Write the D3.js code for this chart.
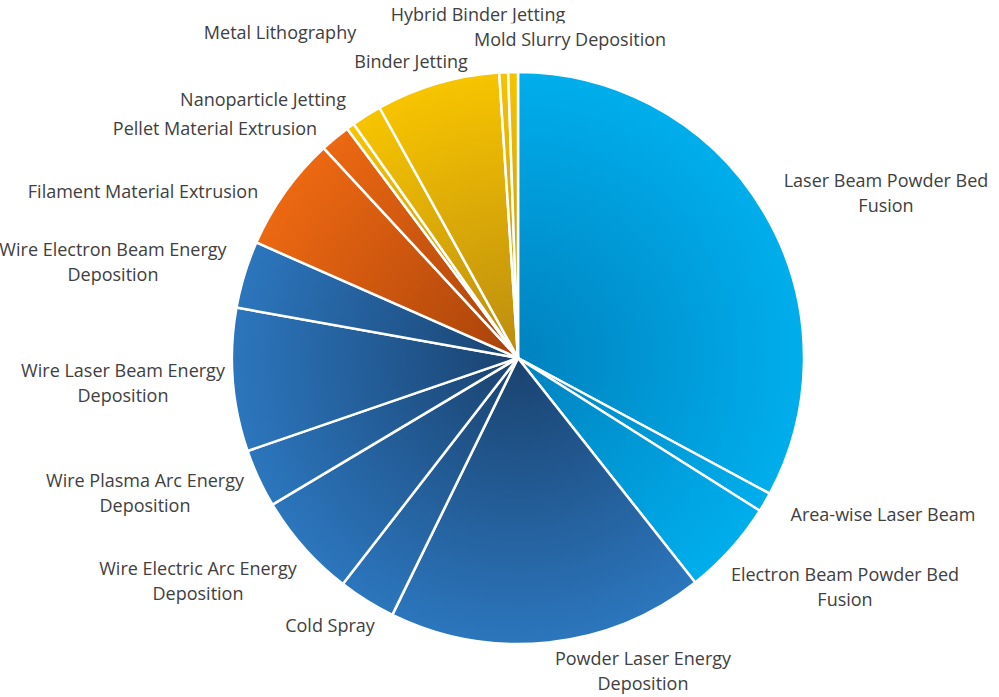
<!DOCTYPE html>
<html>
<head>
<meta charset="utf-8">
<script src="https://cdn.jsdelivr.net/npm/d3@7"></script>
<style>
  body { margin: 0; background: #fff; }
  svg text { font-family: "Open Sans", "Noto Sans", sans-serif; fill: #404040; }
</style>
</head>
<body>
<div id="chart"></div>
<script>
// data (share in %, clockwise from 12 o'clock)
categories = [
	'Laser Beam Powder Bed Fusion', 'Area-wise Laser Beam', 'Electron Beam Powder Bed Fusion',
	'Powder Laser Energy Deposition', 'Cold Spray', 'Wire Electric Arc Energy Deposition',
	'Wire Plasma Arc Energy Deposition', 'Wire Laser Beam Energy Deposition',
	'Wire Electron Beam Energy Deposition', 'Filament Material Extrusion',
	'Pellet Material Extrusion', 'Nanoparticle Jetting', 'Metal Lithography',
	'Binder Jetting', 'Hybrid Binder Jetting', 'Mold Slurry Deposition'
];
values = [32.9, 1.1, 5.4, 17.9, 3.25, 5.95, 3.3, 8.1, 3.8, 6.5, 1.7, 0.45, 1.7, 7.0, 0.5, 0.55];
groups = ['light', 'light', 'light', 'dark', 'dark', 'dark', 'dark', 'dark', 'dark',
	'orange', 'orange', 'yellow', 'yellow', 'yellow', 'yellow', 'yellow'];

// label lines
label_lines = [
	['Laser Beam Powder Bed', 'Fusion'], ['Area-wise Laser Beam'], ['Electron Beam Powder Bed', 'Fusion'],
	['Powder Laser Energy', 'Deposition'], ['Cold Spray'], ['Wire Electric Arc Energy', 'Deposition'],
	['Wire Plasma Arc Energy', 'Deposition'], ['Wire Laser Beam Energy', 'Deposition'],
	['Wire Electron Beam Energy', 'Deposition'], ['Filament Material Extrusion'],
	['Pellet Material Extrusion'], ['Nanoparticle Jetting'], ['Metal Lithography'],
	['Binder Jetting'], ['Hybrid Binder Jetting'], ['Mold Slurry Deposition']
];

// label placement (centre of first line)
label_pos = [
	[886, 181], [883, 515], [845, 575], [643, 659], [330, 626], [198, 569], [145, 481],
	[123, 371], [113, 250], [143, 192], [215, 129], [263, 100], [280, 33], [411, 62],
	[478, 15], [570, 40]
];

// chart settings
chart_width = 999;
chart_height = 697;
cx = 518;
cy = 358;
radius = 286;
line_height = 25;

// gradient colors: [centre, edge]
palette = {
	light: ['#0082bf', '#00aeec'],
	dark: ['#1a426f', '#2c76bd'],
	orange: ['#a8420a', '#ec6812'],
	yellow: ['#bb8c10', '#f7c400']
};

var svg = d3.select('#chart')
	.append('svg')
	.attr('width', chart_width)
	.attr('height', chart_height);

var defs = svg.append('defs');
for (key of Object.keys(palette)) {
	var grad = defs.append('radialGradient')
		.attr('id', 'grad-' + key)
		.attr('gradientUnits', 'userSpaceOnUse')
		.attr('cx', 0).attr('cy', 0).attr('r', radius);
	grad.append('stop').attr('offset', '0%').attr('stop-color', palette[key][0]);
	grad.append('stop').attr('offset', '100%').attr('stop-color', palette[key][1]);
}

var pie = d3.pie().sort(null).value((d) => d);
var arc = d3.arc().innerRadius(0).outerRadius(radius);

var g = svg.append('g').attr('transform', `translate(${cx},${cy})`);

g.selectAll('path')
	.data(pie(values))
	.enter()
	.append('path')
	.attr('d', arc)
	.attr('fill', (d, i) => `url(#grad-${groups[i]})`)
	.attr('stroke', '#fff')
	.attr('stroke-width', 2.5)
	.attr('stroke-linejoin', 'round');

// labels (white box behind each, it clips the label above it like the original)
var labels = svg.selectAll('g.label')
	.data(categories)
	.enter()
	.append('g')
	.attr('class', 'label')
	.attr('transform', (d, i) => `translate(${label_pos[i][0]},${label_pos[i][1]})`);

labels.each(function (d, i) {
	var sel = d3.select(this);
	var bg = sel.append('rect').attr('fill', '#fff');
	var t = sel.append('text')
		.attr('text-anchor', 'middle')
		.attr('font-size', 18);
	label_lines[i].forEach((line, j) => {
		t.append('tspan')
			.attr('x', 0)
			.attr('y', j * line_height)
			.attr('dy', '0.35em')
			.text(line);
	});
	var bb = t.node().getBBox();
	bg.attr('x', bb.x - 2).attr('y', bb.y - 4).attr('width', bb.width + 4).attr('height', bb.height + 2);
});
</script>
</body>
</html>
